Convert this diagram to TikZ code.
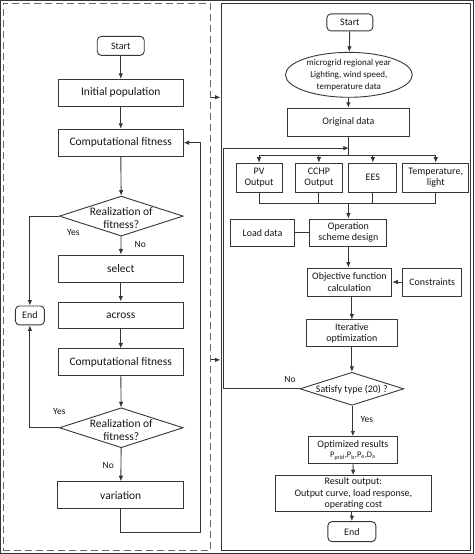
\documentclass[tikz,border=0pt]{standalone}
\usepackage{fontspec}
\setmainfont{Carlito}
\usetikzlibrary{shapes.geometric,arrows.meta}
\definecolor{lc}{HTML}{353535}
\definecolor{tc}{HTML}{151515}
\begin{document}
\begin{tikzpicture}[x=1pt,y=-1pt,
  >={Latex[length=5.5pt,width=4.5pt]},
  every path/.style={draw=lc, line width=0.9pt},
  lfont/.style={font=\fontsize{11.5}{13}\selectfont},
  rfont/.style={font=\fontsize{10}{11.5}\selectfont},
  box/.style={draw=lc, line width=0.9pt, inner sep=0pt, align=center, text=tc, rectangle},
  rbox/.style={box, rounded corners=4pt},
  dia/.style={draw=lc, line width=0.9pt, diamond, inner sep=0pt},
  ell/.style={draw=lc, line width=0.9pt, ellipse, inner sep=0pt},
  lab/.style={text=tc, inner sep=0pt, font=\fontsize{9.5}{11}\selectfont},
  dpanel/.style={draw=lc!75, line width=1pt, dash pattern=on 7pt off 4pt, inner sep=0pt},
  spanel/.style={draw=lc, line width=1.1pt, inner sep=0pt}
]
\useasboundingbox (0,0) rectangle (474,554);
% panels
\node[dpanel, minimum width=207, minimum height=548] (lp) at (106.5,277) {};
\node[spanel, minimum width=250, minimum height=548] (rp) at (346,277) {};
\draw[->] (lp.east |- 0,97) -- (rp.west |- 0,97);
\draw[->] (lp.east |- 0,360) -- (rp.west |- 0,360);

% ---------- left flowchart ----------
\node[rbox, font=\fontsize{10}{12}\selectfont, minimum width=47, minimum height=19] (ls) at (120.5,45.5) {Start};
\node[box, lfont, minimum width=125, minimum height=27] (ip) at (120.5,92.5) {Initial population};
\node[box, lfont, minimum width=125, minimum height=27] (cf1) at (120.5,142.5) {Computational fitness};
\node[dia, minimum width=124, minimum height=40,
  label={[lfont, text=tc, align=center, inner sep=0pt, yshift=-2pt]center:Realization of\\fitness?}] (d1) at (121,216) {};
\node[box, lfont, minimum width=125, minimum height=27] (sel) at (120.5,268.5) {select};
\node[box, lfont, minimum width=125, minimum height=27] (acr) at (120.5,315.5) {across};
\node[box, lfont, minimum width=125, minimum height=27] (cf2) at (120.5,362.5) {Computational fitness};
\node[dia, minimum width=124, minimum height=40,
  label={[lfont, text=tc, align=center, inner sep=0pt, yshift=-2pt]center:Realization of\\fitness?}] (d2) at (121,428) {};
\node[box, lfont, minimum width=126, minimum height=27] (var) at (120.5,495.5) {variation};
\node[rbox, font=\fontsize{10}{12}\selectfont, minimum width=29, minimum height=19] (lend) at (29.5,315.5) {End};

\draw[->] (ls) -- (ip);
\draw[->] (ip) -- (cf1);
\draw[->] (cf1) -- (d1);
\draw[->] (d1) -- (sel);
\draw[->] (sel) -- (acr);
\draw[->] (acr) -- (cf2);
\draw[->] (cf2) -- (d2);
\draw[->] (d2) -- (var);
\draw[->] (d1.west) -| (lend.north);
\draw[->] (d2.west) -| (lend.south);
\coordinate (fb1) at (200,533);
\draw[->] (var.south) |- (fb1) |- (cf1.east);

\node[lab] at (73,232) {Yes};
\node[lab] at (140,244) {No};
\node[lab] at (59,412) {Yes};
\node[lab] at (108,466) {No};

% ---------- right flowchart ----------
\node[rbox, rfont, minimum width=46, minimum height=17] (rs) at (350,22) {Start};
\node[ell, minimum width=127, minimum height=45,
  label={[font=\fontsize{9}{12}\selectfont, text=tc, align=center, inner sep=0pt]center:microgrid regional year\\Lighting, wind speed,\\temperature data}] (md) at (349,74.5) {};
\node[box, rfont, minimum width=123, minimum height=28] (od) at (348.5,122) {Original data};
\node[box, rfont, minimum width=46, minimum height=29] (pv) at (259,177.5) {PV\\Output};
\node[box, rfont, minimum width=48, minimum height=29] (cchp) at (319,177.5) {CCHP\\Output};
\node[box, rfont, minimum width=48, minimum height=29] (ees) at (373,177.5) {EES};
\node[box, rfont, minimum width=66, minimum height=29] (tl) at (436,177.5) {Temperature,\\light};
\node[box, rfont, minimum width=77, minimum height=27] (osd) at (348.5,232.5) {Operation\\scheme design};
\node[box, rfont, minimum width=64, minimum height=27] (ld) at (262.5,232.5) {Load data};
\node[box, rfont, minimum width=85, minimum height=28] (obj) at (349.5,282) {Objective function\\calculation};
\node[box, rfont, minimum width=59, minimum height=28] (con) at (432.5,282) {Constraints};
\node[box, rfont, minimum width=92, minimum height=27] (it) at (352,333.5) {Iterative\\optimization};
\node[dia, minimum width=104, minimum height=33,
  label={[rfont, text=tc, inner sep=0pt, yshift=-1pt]center:Satisfy type (20) ?}] (sat) at (352,389) {};
\node[box, rfont, minimum width=90, minimum height=27] (opt) at (353,450.5) {Optimized results\\[-1pt]{\fontsize{8.5}{9}\selectfont P\textsubscript{prid},P\textsubscript{b},P\textsubscript{e},D\textsubscript{a}}};
\node[box, rfont, minimum width=157, minimum height=36] (res) at (353.5,494) {Result output:\\Output curve, load response,\\operating cost};
\node[rbox, rfont, minimum width=48, minimum height=20] (rend) at (352,532) {End};

\draw[->] (rs) -- (md);
\draw[->] (md.south -| od.north) -- (od.north);
\coordinate (br) at (349,155);
\coordinate (fbin) at (349,148);
\draw (od.south -| br) -- (br);
\draw[->] (br) -| (pv.north);
\draw[->] (br) -| (cchp.north);
\draw[->] (br) -| (ees.north);
\draw[->] (br) -| (tl.north);
\coordinate (jn) at (348.5,203);
\draw (pv.south) |- (jn) -| (tl.south);
\draw (cchp.south) -- (cchp.south |- jn);
\draw (ees.south) -- (ees.south |- jn);
\draw[->] (jn) -- (osd.north);
\draw (ld) -- (osd);
\draw[->] (osd.south) -- (osd.south |- obj.north);
\draw[->] (con) -- (obj);
\draw[->] (it.north |- obj.south) -- (it.north);
\draw[->] (it) -- (sat);
\coordinate (nb) at (223,148);
\draw[->] (sat.west) -| (nb) -- (fbin);
\draw[->] (sat.south -| opt.north) -- (opt.north);
\draw[->] (opt) -- (res);
\draw[->] (res.south -| rend.north) -- (rend.north);

\node[lab] at (290,380) {No};
\node[lab] at (367,420) {Yes};
\end{tikzpicture}
\end{document}
